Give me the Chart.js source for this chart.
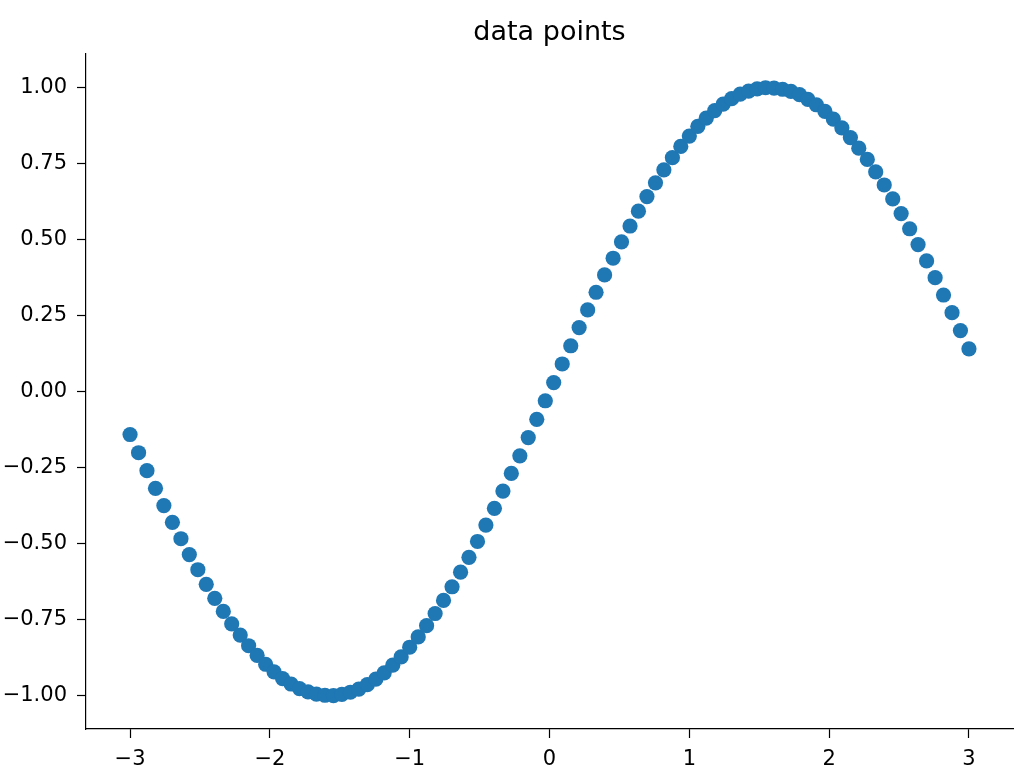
<!DOCTYPE html>
<html>
<head>
<meta charset="utf-8">
<script src="https://cdn.jsdelivr.net/npm/chart.js@4/dist/chart.umd.min.js"></script>
<style>
html,body{margin:0;padding:0;background:#fff;}
canvas{display:block;}
</style>
</head>
<body>
<canvas id="c" width="1028" height="776"></canvas>
<script>
const titleText = "data points";
const xValues = [-3.000,-2.939,-2.879,-2.818,-2.758,-2.697,-2.636,-2.576,-2.515,-2.455,-2.394,-2.333,-2.273,-2.212,-2.152,-2.091,-2.030,-1.970,-1.909,-1.848,-1.788,-1.727,-1.667,-1.606,-1.545,-1.485,-1.424,-1.364,-1.303,-1.242,-1.182,-1.121,-1.061,-1.000,-0.939,-0.879,-0.818,-0.758,-0.697,-0.636,-0.576,-0.515,-0.455,-0.394,-0.333,-0.273,-0.212,-0.152,-0.091,-0.030,0.030,0.091,0.152,0.212,0.273,0.333,0.394,0.455,0.515,0.576,0.636,0.697,0.758,0.818,0.879,0.939,1.000,1.061,1.121,1.182,1.242,1.303,1.364,1.424,1.485,1.545,1.606,1.667,1.727,1.788,1.848,1.909,1.970,2.030,2.091,2.152,2.212,2.273,2.333,2.394,2.455,2.515,2.576,2.636,2.697,2.758,2.818,2.879,2.939,3.000];
const yValues = [-0.141,-0.201,-0.260,-0.318,-0.375,-0.430,-0.484,-0.536,-0.586,-0.634,-0.680,-0.723,-0.764,-0.801,-0.836,-0.868,-0.897,-0.922,-0.944,-0.962,-0.977,-0.988,-0.995,-0.999,-1.000,-0.996,-0.989,-0.979,-0.964,-0.946,-0.925,-0.900,-0.873,-0.841,-0.807,-0.770,-0.730,-0.687,-0.642,-0.594,-0.545,-0.493,-0.439,-0.384,-0.327,-0.269,-0.211,-0.151,-0.091,-0.030,0.030,0.091,0.151,0.211,0.269,0.327,0.384,0.439,0.493,0.545,0.594,0.642,0.687,0.730,0.770,0.807,0.841,0.873,0.900,0.925,0.946,0.964,0.979,0.989,0.996,1.000,0.999,0.995,0.988,0.977,0.962,0.944,0.922,0.897,0.868,0.836,0.801,0.764,0.723,0.680,0.634,0.586,0.536,0.484,0.430,0.375,0.318,0.260,0.201,0.141];
const xTicks = [-3,-2,-1,0,1,2,3];
const yTicks = [-1.00,-0.75,-0.50,-0.25,0.00,0.25,0.50,0.75,1.00];

const points = xValues.map((x,i)=>({x:x, y:yValues[i]}));
const fmtX = v => (v<0?"\u2212":"") + Math.abs(v).toFixed(0);
const fmtY = v => (v<0?"\u2212":"") + Math.abs(v).toFixed(2);
const FONT = "'DejaVu Sans', sans-serif";

const titlePlugin = {
  id: 'axTitle',
  afterDraw(chart) {
    const ctx = chart.ctx, a = chart.chartArea;
    ctx.save();
    ctx.font = "27px " + FONT;
    ctx.fillStyle = '#000';
    ctx.textAlign = 'center';
    ctx.textBaseline = 'alphabetic';
    ctx.fillText(titleText, (a.left + a.right) / 2, 40);
    ctx.restore();
  }
};

new Chart(document.getElementById('c'), {
  type: 'scatter',
  data: { datasets: [{ data: points, backgroundColor: '#1f77b4', borderWidth: 0, pointRadius: 7.6, pointHoverRadius: 7.6 }] },
  options: {
    responsive: false,
    animation: false,
    events: [],
    layout: { padding: { left: 0, right: 15, top: 54, bottom: 0 } },
    plugins: {
      legend: { display: false },
      tooltip: { enabled: false },
      title: { display: false }
    },
    scales: {
      x: {
        type: 'linear', min: -3.315, max: 3.315,
        afterBuildTicks: s => { s.ticks = xTicks.map(v=>({value:v})); },
        afterFit: s => { s.height = 47; },
        grid: { drawOnChartArea: false, drawTicks: true, tickLength: 9, color: '#000', tickWidth: 1.2 },
        border: { display: true, color: '#000', width: 1.2 },
        ticks: { color: '#000', font: { family: FONT, size: 21 }, padding: 9, callback: v => fmtX(v), maxRotation: 0 }
      },
      y: {
        type: 'linear', min: -1.110, max: 1.111,
        afterBuildTicks: s => { s.ticks = yTicks.map(v=>({value:v})); },
        afterFit: s => { s.width = 86; },
        grid: { drawOnChartArea: false, drawTicks: true, tickLength: 9, color: '#000', tickWidth: 1.2 },
        border: { display: true, color: '#000', width: 1.2 },
        ticks: { color: '#000', font: { family: FONT, size: 21 }, padding: 10, callback: v => fmtY(v) }
      }
    }
  },
  plugins: [titlePlugin]
});
</script>
</body>
</html>
